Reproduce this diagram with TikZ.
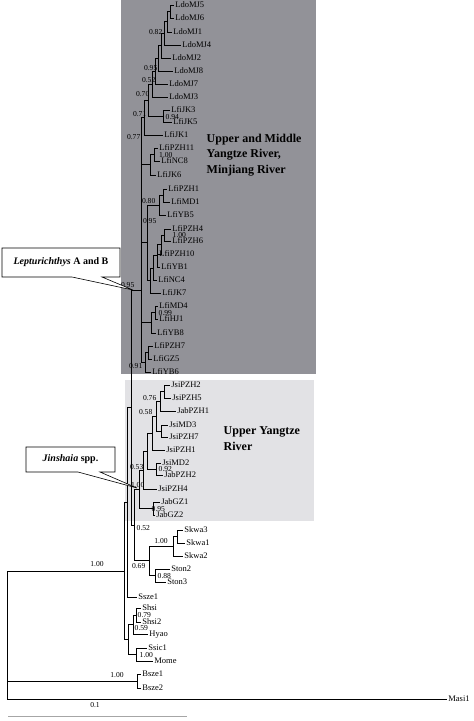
\documentclass[tikz,border=0pt]{standalone}
\usepackage{fontspec}
\setmainfont{Liberation Serif}
\definecolor{upbox}{RGB}{146,146,152}
\definecolor{lowbox}{RGB}{226,226,229}
\begin{document}
\begin{tikzpicture}[x=1pt,y=-1pt,line width=0.8pt,
  taxon/.style={anchor=west,inner sep=1pt,text height=5.5pt,text depth=0.5pt,font=\fontsize{8.5}{9}\selectfont},
  bval/.style={inner sep=0.3pt,text height=5pt,text depth=0pt,font=\fontsize{7.6}{8}\selectfont},
  region/.style={anchor=west,align=left,font=\fontsize{12}{15.5}\selectfont\bfseries},
  notebox/.style={fill=white,draw=black,line width=0.6pt},
  notetext/.style={font=\fontsize{10}{12}\selectfont\bfseries}]
\useasboundingbox (0,0) rectangle (474,721);
\fill[upbox] (121,0) rectangle (316,374);
\fill[lowbox] (125,380) rectangle (314,521);

% Lepturichthys A and B
\node[taxon] (MJ5) at (174,5) {LdoMJ5};
\node[taxon] (MJ6) at (174,18) {LdoMJ6};
\node[taxon] (MJ1) at (172,32) {LdoMJ1};
\node[taxon] (MJ4) at (181,45) {LdoMJ4};
\node[taxon] (MJ2) at (171,58) {LdoMJ2};
\node[taxon] (MJ8) at (173,71) {LdoMJ8};
\node[taxon] (MJ7) at (168,84) {LdoMJ7};
\node[taxon] (MJ3) at (168,97) {LdoMJ3};
\node[taxon] (JK3) at (170,110) {LfiJK3};
\node[taxon] (JK5) at (172,122) {LfiJK5};
\node[taxon] (JK1) at (163,135) {LfiJK1};
\node[taxon] (PZH11) at (158,148) {LfiPZH11};
\node[taxon] (NC8) at (160,161) {LfiNC8};
\node[taxon] (JK6) at (156,175) {LfiJK6};
\node[taxon] (fPZH1) at (167,189) {LfiPZH1};
\node[taxon] (fMD1) at (170,202) {LfiMD1};
\node[taxon] (fYB5) at (166,215) {LfiYB5};
\node[taxon] (fPZH4) at (171,229) {LfiPZH4};
\node[taxon] (fPZH6) at (171,241) {LfiPZH6};
\node[taxon] (fPZH10) at (158,254) {LfiPZH10};
\node[taxon] (fYB1) at (160,267) {LfiYB1};
\node[taxon] (fNC4) at (157,280) {LfiNC4};
\node[taxon] (fJK7) at (161,293) {LfiJK7};
\node[taxon] (fMD4) at (158,306) {LfiMD4};
\node[taxon] (fHJ1) at (158,319) {LfiHJ1};
\node[taxon] (fYB8) at (156,333) {LfiYB8};
\node[taxon] (fPZH7) at (153,346) {LfiPZH7};
\node[taxon] (fGZ5) at (152,359) {LfiGZ5};
\node[taxon] (fYB6) at (151,372) {LfiYB6};

\coordinate (a1) at (170,11.5);
\coordinate (a2) at (167,21.75);
\coordinate (a3) at (164,33.4);
\coordinate (a4) at (161,45.7);
\coordinate (a5) at (158,58.3);
\coordinate (a6) at (155,71.2);
\coordinate (a7) at (152,84.1);
\coordinate (d1) at (163,116);
\coordinate (a8) at (148,100);
\coordinate (a9) at (144,117.5);
\coordinate (e1) at (154,154.5);
\coordinate (e2) at (150,164.75);
\coordinate (f1) at (163,195.5);
\coordinate (f2) at (159,205.25);
\coordinate (g1) at (164,235);
\coordinate (g2) at (161,244.5);
\coordinate (g3) at (157,255.75);
\coordinate (g4) at (153,267.9);
\coordinate (g5) at (150,280.4);
\coordinate (f3) at (147,242.8);
\coordinate (h1) at (155,312.5);
\coordinate (h2) at (151,322.75);
\coordinate (i1) at (148,352.5);
\coordinate (i2) at (145,362.25);
\coordinate (lep) at (141,290);

\draw (a1) |- (MJ5); \draw (a1) |- (MJ6);
\draw (a2) |- (a1); \draw (a2) |- (MJ1);
\draw (a3) |- (a2); \draw (a3) |- (MJ4);
\draw (a4) |- (a3); \draw (a4) |- (MJ2);
\draw (a5) |- (a4); \draw (a5) |- (MJ8);
\draw (a6) |- (a5); \draw (a6) |- (MJ7);
\draw (a7) |- (a6); \draw (a7) |- (MJ3);
\draw (d1) |- (JK3); \draw (d1) |- (JK5);
\draw (a8) |- (a7); \draw (a8) |- (d1);
\draw (a9) |- (a8); \draw (a9) |- (JK1);
\draw (e1) |- (PZH11); \draw (e1) |- (NC8);
\draw (e2) |- (e1); \draw (e2) |- (JK6);
\draw (f1) |- (fPZH1); \draw (f1) |- (fMD1);
\draw (f2) |- (f1); \draw (f2) |- (fYB5);
\draw (g1) |- (fPZH4); \draw (g1) |- (fPZH6);
\draw (g2) |- (g1); \draw (g2) |- (fPZH10);
\draw (g3) |- (g2); \draw (g3) |- (fYB1);
\draw (g4) |- (g3); \draw (g4) |- (fNC4);
\draw (g5) |- (g4); \draw (g5) |- (fJK7);
\draw (f3) |- (f2); \draw (f3) |- (g5);
\draw (h1) |- (fMD4); \draw (h1) |- (fHJ1);
\draw (h2) |- (h1); \draw (h2) |- (fYB8);
\draw (i1) |- (fPZH7); \draw (i1) |- (fGZ5);
\draw (i2) |- (i1); \draw (i2) |- (fYB6);
\draw (lep) |- (a9); \draw (lep) |- (e2); \draw (lep) |- (f3);
\draw (lep) |- (h2); \draw (lep) |- (i2);

% Jinshaia spp.
\node[taxon] (sPZH2) at (170,385) {JsiPZH2};
\node[taxon] (sPZH5) at (171,398) {JsiPZH5};
\node[taxon] (aPZH1) at (176,411) {JabPZH1};
\node[taxon] (sMD3) at (168,425) {JsiMD3};
\node[taxon] (sPZH7) at (168,437) {JsiPZH7};
\node[taxon] (sPZH1) at (165,450) {JsiPZH1};
\node[taxon] (sMD2) at (161,463) {JsiMD2};
\node[taxon] (aPZH2) at (163,475) {JabPZH2};
\node[taxon] (sPZH4) at (157,489) {JsiPZH4};
\node[taxon] (aGZ1) at (160,502) {JabGZ1};
\node[taxon] (aGZ2) at (155,515) {JabGZ2};

\coordinate (j1) at (164,391.5);
\coordinate (j2) at (160,401.25);
\coordinate (j3) at (161,431);
\coordinate (j4) at (156,416);
\coordinate (j5) at (152,433);
\coordinate (j6) at (156,469);
\coordinate (j7) at (147,451);
\coordinate (j8) at (143,470);
\coordinate (j9) at (153,508.5);
\coordinate (j10) at (139,489.25);

\draw (j1) |- (sPZH2); \draw (j1) |- (sPZH5);
\draw (j2) |- (j1); \draw (j2) |- (aPZH1);
\draw (j3) |- (sMD3); \draw (j3) |- (sPZH7);
\draw (j4) |- (j2); \draw (j4) |- (j3);
\draw (j5) |- (j4); \draw (j5) |- (sPZH1);
\draw (j6) |- (sMD2); \draw (j6) |- (aPZH2);
\draw (j7) |- (j5); \draw (j7) |- (j6);
\draw (j8) |- (j7); \draw (j8) |- (sPZH4);
\draw (j9) |- (aGZ1); \draw (j9) |- (aGZ2);
\draw (j10) |- (j8); \draw (j10) |- (j9);

% Schizothorax and the rest
\node[taxon] (kwa3) at (183,530) {Skwa3};
\node[taxon] (kwa1) at (185,543) {Skwa1};
\node[taxon] (kwa2) at (183,556) {Skwa2};
\node[taxon] (ton2) at (170,569) {Ston2};
\node[taxon] (ton3) at (166,582) {Ston3};
\node[taxon] (sze1) at (137,597) {Ssze1};
\node[taxon] (hsi) at (141,608) {Shsi};
\node[taxon] (hsi2) at (141,622) {Shsi2};
\node[taxon] (yao) at (148,634) {Hyao};
\node[taxon] (sic1) at (147,648) {Ssic1};
\node[taxon] (mome) at (153,661) {Mome};
\node[taxon] (bze1) at (141,674) {Bsze1};
\node[taxon] (bze2) at (141,688) {Bsze2};
\node[taxon] (masi) at (447,699) {Masi1};

\coordinate (s1) at (177,536.5);
\coordinate (s2) at (173,546.25);
\coordinate (t1) at (155,575.5);
\coordinate (kk) at (149,560.75);
\coordinate (dd) at (134,525);
\coordinate (p1) at (131,407.5);
\coordinate (bb) at (127,502.25);
\coordinate (u1) at (136,615);
\coordinate (u2) at (133,624.5);
\coordinate (v1) at (136,654.5);
\coordinate (ss) at (128,639.5);
\coordinate (ii) at (124,570.9);
\coordinate (bz) at (137,681);
\coordinate (root) at (7,699);

\draw (s1) |- (kwa3); \draw (s1) |- (kwa1);
\draw (s2) |- (s1); \draw (s2) |- (kwa2);
\draw (t1) |- (ton2); \draw (t1) |- (ton3);
\draw (kk) |- (s2); \draw (kk) |- (t1);
\draw (dd) |- (j10); \draw (dd) |- (kk);
\draw (p1) |- (lep); \draw (p1) |- (dd);
\draw (bb) |- (p1); \draw (bb) |- (sze1);
\draw (u1) |- (hsi); \draw (u1) |- (hsi2);
\draw (u2) |- (u1); \draw (u2) |- (yao);
\draw (v1) |- (sic1); \draw (v1) |- (mome);
\draw (ss) |- (u2); \draw (ss) |- (v1);
\draw (ii) |- (bb); \draw (ii) |- (ss);
\draw (bz) |- (bze1); \draw (bz) |- (bze2);
\draw (root) |- (ii); \draw (root) |- (bz); \draw (root) -- (masi);

% support values
\node[bval,anchor=east] (b082) at (163,32) {0.82};
\node[bval,anchor=east] (b095a) at (158,68) {0.95};
\node[bval,anchor=east] (b052a) at (156,80) {0.52};
\node[bval,anchor=east] (b070) at (150,94) {0.70};
\node[bval,anchor=east] (b071) at (147,114) {0.71};
\node[bval,anchor=west] (b094) at (165,116.5) {0.94};
\node[bval,anchor=east] (b077) at (141,137) {0.77};
\node[bval,anchor=west] (b100a) at (158.5,154.5) {1.00};
\node[bval,anchor=east] (b080) at (156,201) {0.80};
\node[bval,anchor=east] (b095b) at (157,221) {0.95};
\node[bval,anchor=west] (b100b) at (172,235) {1.00};
\node[bval,anchor=east] (b095c) at (135,285) {0.95};
\node[bval,anchor=west] (b099) at (158,312.5) {0.99};
\node[bval,anchor=east] (b091) at (143,366) {0.91};
\node[bval,anchor=east] (b076) at (157,398) {0.76};
\node[bval,anchor=east] (b058) at (153,412) {0.58};
\node[bval,anchor=east] (b053) at (144,467) {0.53};
\node[bval,anchor=west] (b092) at (158,469) {0.92};
\node[bval,anchor=east] (b100c) at (145,485) {1.00};
\node[bval,anchor=west] (b095d) at (151,508.5) {0.95};
\node[bval,anchor=west] (b052b) at (136,528) {0.52};
\node[bval] (b100d) at (161,541) {1.00};
\node[bval,anchor=east] (b069) at (146,566) {0.69};
\node[bval,anchor=west] (b088) at (157,575.5) {0.88};
\node[bval,anchor=west] (b079) at (137,615) {0.79};
\node[bval,anchor=west] (b059) at (134,628) {0.59};
\node[bval,anchor=west] (b100e) at (139,654.5) {1.00};
\node[bval] (b100f) at (117,675) {1.00};
\node[bval] (b100g) at (97,564) {1.00};

% scale bar
\coordinate (sb0) at (8,716);
\coordinate (sb1) at (187,716);
\draw[gray!70,line width=1pt] (sb0) -- (sb1);
\node[bval] (sblab) at (95,705) {0.1};

% region labels
\node[region] (upreg) at (203,155) {Upper and Middle\\Yangtze River,\\Minjiang River};
\node[region] (lowreg) at (220,438.5) {Upper Yangtze\\River};

% callouts
\filldraw[notebox] (2,248) -- (120,248) -- (120,277) -- (102,277) -- (133,290) -- (72,277) -- (2,277) -- cycle;
\node[notetext] (lepnote) at (61,262.5) {\textit{Lepturichthys} A and B};
\filldraw[notebox] (26,447) -- (115,447) -- (115,472) -- (100,472) -- (137,488) -- (78,472) -- (26,472) -- cycle;
\node[notetext] (jinnote) at (70.5,459.5) {\textit{Jinshaia} spp.};
\end{tikzpicture}
\end{document}
